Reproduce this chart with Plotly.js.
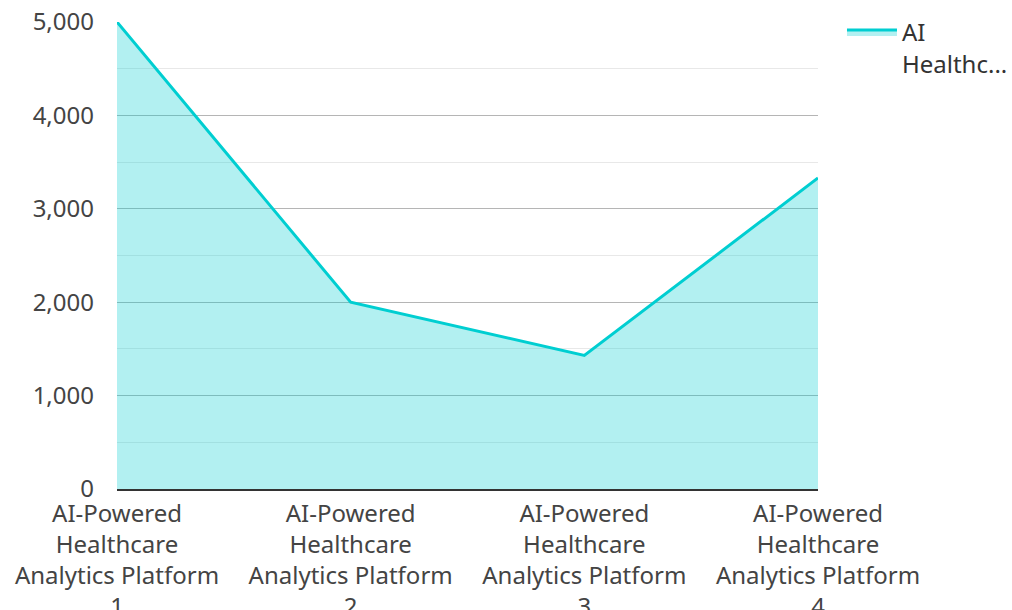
<!DOCTYPE html>
<html>
<head>
<meta charset="utf-8">
<script src="https://cdn.plot.ly/plotly-3.0.1.min.js"></script>
<style>html,body{margin:0;padding:0;background:#fff;}#chart{width:1012px;height:610px;}</style>
</head>
<body>
<div id="chart"></div>
<script>
const categories = [
  "AI-Powered<br>Healthcare<br>Analytics Platform<br>1",
  "AI-Powered<br>Healthcare<br>Analytics Platform<br>2",
  "AI-Powered<br>Healthcare<br>Analytics Platform<br>3",
  "AI-Powered<br>Healthcare<br>Analytics Platform<br>4"
];
const values = [5000, 2000, 1430, 3330];
const seriesName = "AI<br>Healthc...";
const yTickVals = [0, 1000, 2000, 3000, 4000, 5000];
const yTickText = ["0", "1,000", "2,000", "3,000", "4,000", "5,000"];

const trace = {
  type: "scatter",
  mode: "lines",
  x: categories,
  y: values,
  name: seriesName,
  fill: "tozeroy",
  fillcolor: "rgba(0,206,209,0.3)",
  line: {color: "#00CED1", width: 3}
};

const layout = {
  width: 1012, height: 610,
  margin: {l: 117, r: 194, t: 22, b: 121, pad: 0},
  paper_bgcolor: "#fff", plot_bgcolor: "#fff",
  font: {family: "Noto Sans, Open Sans, sans-serif", size: 24, color: "#444"},
  showlegend: true,
  legend: {xref: "container", yref: "container", x: 0.832, y: 0.9836,
           xanchor: "left", yanchor: "top", itemwidth: 50, valign: "top",
           font: {size: 24, color: "#333"}, bgcolor: "rgba(0,0,0,0)"},
  xaxis: {
    type: "category",
    range: [0, 3],
    showgrid: false,
    zeroline: false,
    showline: true, linecolor: "#333", linewidth: 2,
    ticks: "",
    ticklabelstandoff: 2,
    tickfont: {size: 24, color: "#444"},
    fixedrange: true
  },
  yaxis: {
    range: [0, 5000],
    tickvals: yTickVals,
    ticktext: yTickText,
    showgrid: true, gridcolor: "rgba(0,0,0,0.22)", gridwidth: 1,
    minor: {dtick: 500, showgrid: true, gridcolor: "rgba(0,0,0,0.09)", gridwidth: 1},
    zeroline: false,
    showline: false,
    ticks: "",
    ticklabelstandoff: 22,
    tickfont: {size: 24, color: "#444"},
    fixedrange: true
  }
};

Plotly.newPlot("chart", [trace], layout, {displayModeBar: false, staticPlot: true});
</script>
</body>
</html>
